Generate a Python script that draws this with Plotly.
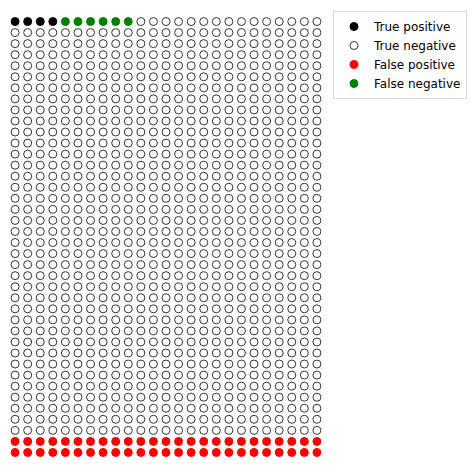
import plotly.graph_objs as go

# grid of 1000 people, 25 per row
n_cols = 25
n_rows = 40

labels = ['True positive', 'True negative', 'False positive', 'False negative']
counts = [4, 940, 50, 6]
# order in which the cells are filled, row by row from the top
fill_order = ['True positive', 'False negative', 'True negative', 'False positive']

styles = {
    'True positive': dict(color='black', line=dict(color='black', width=1)),
    'True negative': dict(color='white', line=dict(color='#333333', width=1)),
    'False positive': dict(color='red', line=dict(color='red', width=1)),
    'False negative': dict(color='green', line=dict(color='green', width=1)),
}

count_of = dict(zip(labels, counts))
cells = {}
idx = 0
for name in fill_order:
    xs, ys = [], []
    for i in range(count_of[name]):
        xs.append(idx % n_cols)
        ys.append(idx // n_cols)
        idx += 1
    cells[name] = (xs, ys)

plot_list = []
for name in labels:
    xs, ys = cells[name]
    trace = go.Scatter(
        x=xs,
        y=ys,
        mode='markers',
        name=name,
        marker=dict(symbol='circle', size=8, **styles[name]),
    )
    plot_list.append(trace)

fig = go.Figure(plot_list)
fig.update_layout(
    width=474,
    height=474,
    margin=dict(l=0, r=0, t=0, b=0),
    plot_bgcolor='white',
    paper_bgcolor='white',
    font=dict(family='DejaVu Sans', size=12, color='black'),
    xaxis=dict(domain=[0, 332 / 474], range=[-1.2, n_cols - 1 + 1.2],
               visible=False),
    yaxis=dict(range=[n_rows - 1 + 1.95, -1.95], visible=False),
    legend=dict(
        x=333 / 474, y=1 - 11 / 474, xanchor='left', yanchor='top',
        bgcolor='white', bordercolor='#d9d9d9', borderwidth=1,
        font=dict(size=12),
        tracegroupgap=0,
    ),
)
# drop the browser's default page margin so the figure sits at the corner
fig.write_html("out.html", config={'displayModeBar': False},
               post_script="document.body.style.margin='0px';")
